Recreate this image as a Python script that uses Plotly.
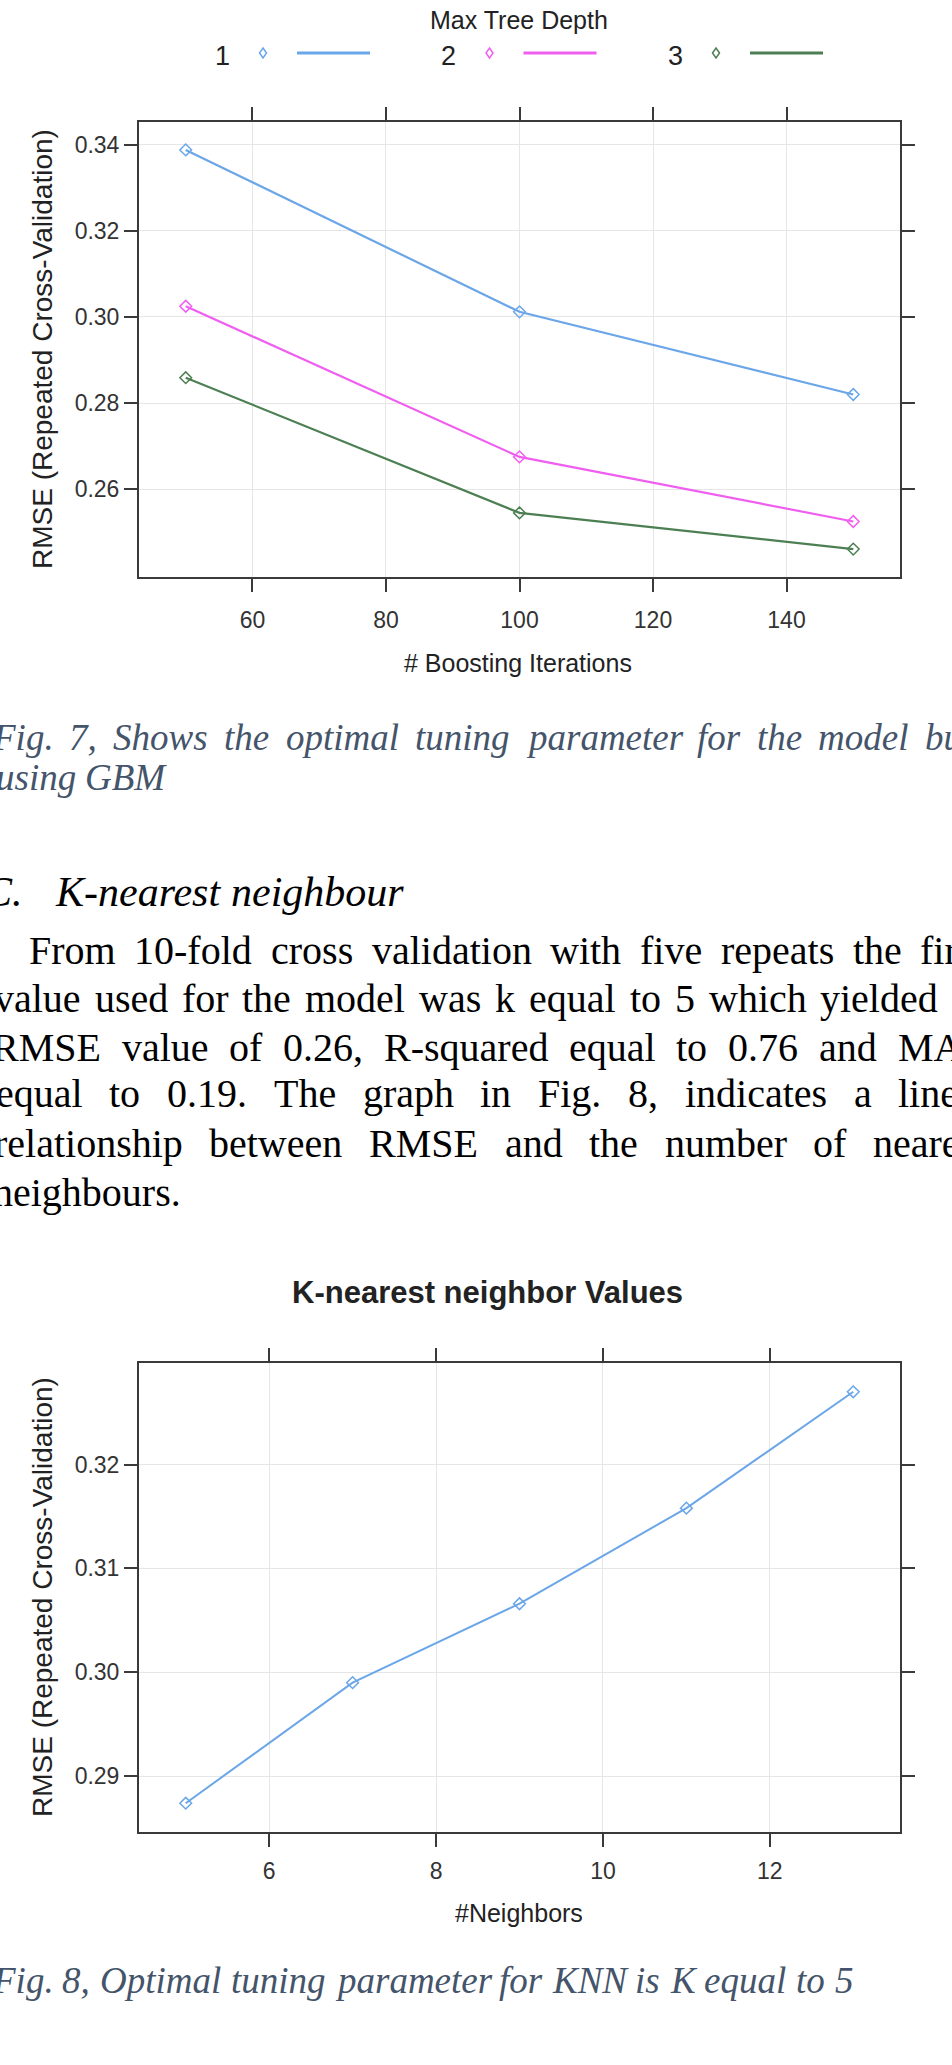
import plotly.graph_objects as go

W, H = 952, 2065

# GBM tuning results: RMSE per number of boosting iterations, one series per max tree depth
gbm_iterations = [50, 100, 150]
gbm_depths = ["1", "2", "3"]
gbm_rmse = [
    [0.3388, 0.3012, 0.2820],
    [0.3025, 0.2675, 0.2525],
    [0.2859, 0.2545, 0.2461],
]
gbm_colors = ["#6aa6e8", "#f05ef0", "#4c7f52"]
gbm_x_ticks = [60, 80, 100, 120, 140]
gbm_y_ticks = [0.26, 0.28, 0.30, 0.32, 0.34]

# KNN tuning results
knn_neighbors = [5, 7, 9, 11, 13]
knn_rmse = [0.2874, 0.2990, 0.3066, 0.3158, 0.3270]
knn_color = "#6aa6e8"
knn_x_ticks = [6, 8, 10, 12]
knn_y_ticks = [0.29, 0.30, 0.31, 0.32]

SANS = "Liberation Sans Narrow, Arial Narrow, Liberation Sans, Arial, sans-serif"
SERIF = "Liberation Serif, Times New Roman, serif"
CAPTION_COLOR = "#44546a"

# Times advance widths (per 1000 em) used to justify the paper text
ROMAN = dict(zip(" abcdefghijklmnopqrstuvwxyz0123456789.,-",
                 [250, 444, 500, 444, 500, 444, 333, 500, 500, 278, 278, 500, 278, 778,
                  500, 500, 500, 500, 333, 389, 278, 500, 500, 722, 500, 500, 444]
                 + [500] * 10 + [250, 250, 333]))
ROMAN.update({"A": 722, "C": 667, "E": 611, "F": 556, "K": 722, "M": 889, "R": 667,
              "S": 556, "T": 611, "N": 722})
ITALIC = dict(zip(" abcdefghijklmnopqrstuvwxyz0123456789.,-",
                  [250, 500, 500, 444, 500, 444, 278, 500, 500, 278, 278, 444, 278, 722,
                   500, 500, 500, 500, 389, 389, 278, 500, 444, 667, 444, 444, 389]
                  + [500] * 10 + [250, 250, 333]))
ITALIC.update({"B": 611, "C": 667, "F": 611, "G": 722, "K": 667, "M": 833, "N": 667,
               "O": 722, "S": 500})


def padded(vals, frac=0.07):
    lo, hi = min(vals), max(vals)
    d = (hi - lo) * frac
    return [lo - d, hi + d]


def px(x, y):
    return x / W, 1 - y / H


def text_line(fig, text, y, x0, x1=None, size=40, italic=False, color="black"):
    table = ITALIC if italic else ROMAN
    words = text.split()
    widths = [sum(table.get(c, 500) for c in w) * size / 1000 for w in words]
    gap = table[" "] * size / 1000
    if x1 is not None and len(words) > 1:
        gap = (x1 - x0 - sum(widths)) / (len(words) - 1)
    x = x0
    for w, wd in zip(words, widths):
        xp, yp = px(x, y)
        fig.add_annotation(text=f"<i>{w}</i>" if italic else w, x=xp, y=yp,
                           xref="paper", yref="paper", xanchor="left", yanchor="middle",
                           showarrow=False, borderpad=0, borderwidth=0,
                           font=dict(family=SERIF, size=size, color=color))
        x += wd + gap


def label(fig, text, x, y, size, angle=0, bold=False):
    xp, yp = px(x, y)
    fig.add_annotation(text=f"<b>{text}</b>" if bold else text, x=xp, y=yp,
                       xref="paper", yref="paper", xanchor="center", yanchor="middle",
                       showarrow=False, textangle=angle, borderpad=0, borderwidth=0,
                       font=dict(family=SANS, size=size, color="#222222"))


def axis_style(ticks, fmt=None):
    return dict(
        tickvals=ticks, tickformat=fmt, showline=True, linecolor="#3a3a3a", linewidth=2,
        mirror="ticks", ticks="outside", ticklen=13, tickwidth=2, tickcolor="#3a3a3a",
        showgrid=True, gridcolor="#e6e6e6", gridwidth=1, zeroline=False,
        tickfont=dict(family=SANS, size=23, color="#333333"),
    )


fig = go.Figure()

for depth, rmse, color in zip(gbm_depths, gbm_rmse, gbm_colors):
    fig.add_trace(go.Scatter(
        x=gbm_iterations, y=rmse, mode="lines+markers", name=depth,
        line=dict(color=color, width=2.2),
        marker=dict(symbol="diamond-open", size=9, color=color, line=dict(width=1.5)),
        xaxis="x", yaxis="y", showlegend=False,
    ))

fig.add_trace(go.Scatter(
    x=knn_neighbors, y=knn_rmse, mode="lines+markers",
    line=dict(color=knn_color, width=2),
    marker=dict(symbol="diamond-open", size=9, color=knn_color, line=dict(width=1.5)),
    xaxis="x2", yaxis="y2", showlegend=False,
))

x1 = axis_style(gbm_x_ticks)
x1.update(domain=[139 / W, 900 / W], range=padded(gbm_iterations), anchor="y",
          ticklabelstandoff=8)
y1 = axis_style(gbm_y_ticks, ".2f")
y1.update(domain=[1 - 577 / H, 1 - 122 / H],
          range=padded([v for s in gbm_rmse for v in s]), anchor="x", ticklabelstandoff=0)
x2 = axis_style(knn_x_ticks)
x2.update(domain=[139 / W, 900 / W], range=padded(knn_neighbors), anchor="y2",
          ticklabelstandoff=4)
y2 = axis_style(knn_y_ticks, ".2f")
y2.update(domain=[1 - 1832 / H, 1 - 1363 / H], range=padded(knn_rmse), anchor="x2",
          ticklabelstandoff=0)

fig.update_layout(
    width=W, height=H, margin=dict(l=0, r=0, t=0, b=0),
    paper_bgcolor="white", plot_bgcolor="white",
    xaxis=x1, yaxis=y1, xaxis2=x2, yaxis2=y2,
)

# axis titles and chart titles
label(fig, "RMSE (Repeated Cross-Validation)", 42, 349, 28, angle=-90)
label(fig, "# Boosting Iterations", 518, 663, 25)
label(fig, "RMSE (Repeated Cross-Validation)", 42, 1597, 28, angle=-90)
label(fig, "#Neighbors", 519, 1913, 25)
label(fig, "K-nearest neighbor Values", 488, 1292, 31, bold=True)
label(fig, "Max Tree Depth", 519, 20, 25)

# legend key for the GBM chart
for i, (depth, color) in enumerate(zip(gbm_depths, gbm_colors)):
    base = 222 + i * 226.5
    label(fig, depth, base, 56, 27)
    mx, my = base + 41, 53
    fig.add_shape(type="path", xref="paper", yref="paper",
                  path="M {} {} L {} {} L {} {} L {} {} Z".format(
                      *px(mx, my - 5), *px(mx + 3.5, my), *px(mx, my + 5), *px(mx - 3.5, my)),
                  line=dict(color=color, width=1.5))
    lx0, ly = px(base + 75, 53)
    lx1, _ = px(base + 148, 53)
    fig.add_shape(type="line", xref="paper", yref="paper", x0=lx0, x1=lx1, y0=ly, y1=ly,
                  line=dict(color=color, width=3))

# paper text around the figures
text_line(fig, "Fig. 7, Shows the optimal tuning parameter for the model bu", 737, -8, 962,
          size=37, italic=True, color=CAPTION_COLOR)
text_line(fig, "using GBM", 777, -4, size=37, italic=True, color=CAPTION_COLOR)
text_line(fig, "C.", 892, -16, size=42, italic=True)
text_line(fig, "K-nearest neighbour", 892, 55, size=42, italic=True)
text_line(fig, "From 10-fold cross validation with five repeats the fir", 950, 29, 958)
text_line(fig, "value used for the model was k equal to 5 which yielded", 998, -6, 938)
text_line(fig, "RMSE value of 0.26, R-squared equal to 0.76 and MA", 1047, -8, 962)
text_line(fig, "equal to 0.19. The graph in Fig. 8, indicates a line", 1093, -4, 958)
text_line(fig, "relationship between RMSE and the number of neare", 1143, -6, 960)
text_line(fig, "neighbours.", 1192, -7)
text_line(fig, "Fig. 8, Optimal tuning parameter for KNN is K equal to 5", 1980, -8, 853,
          size=37, italic=True, color=CAPTION_COLOR)

fig.write_html("out.html", config={"displayModeBar": False},
               post_script="document.body.style.margin='0';")
